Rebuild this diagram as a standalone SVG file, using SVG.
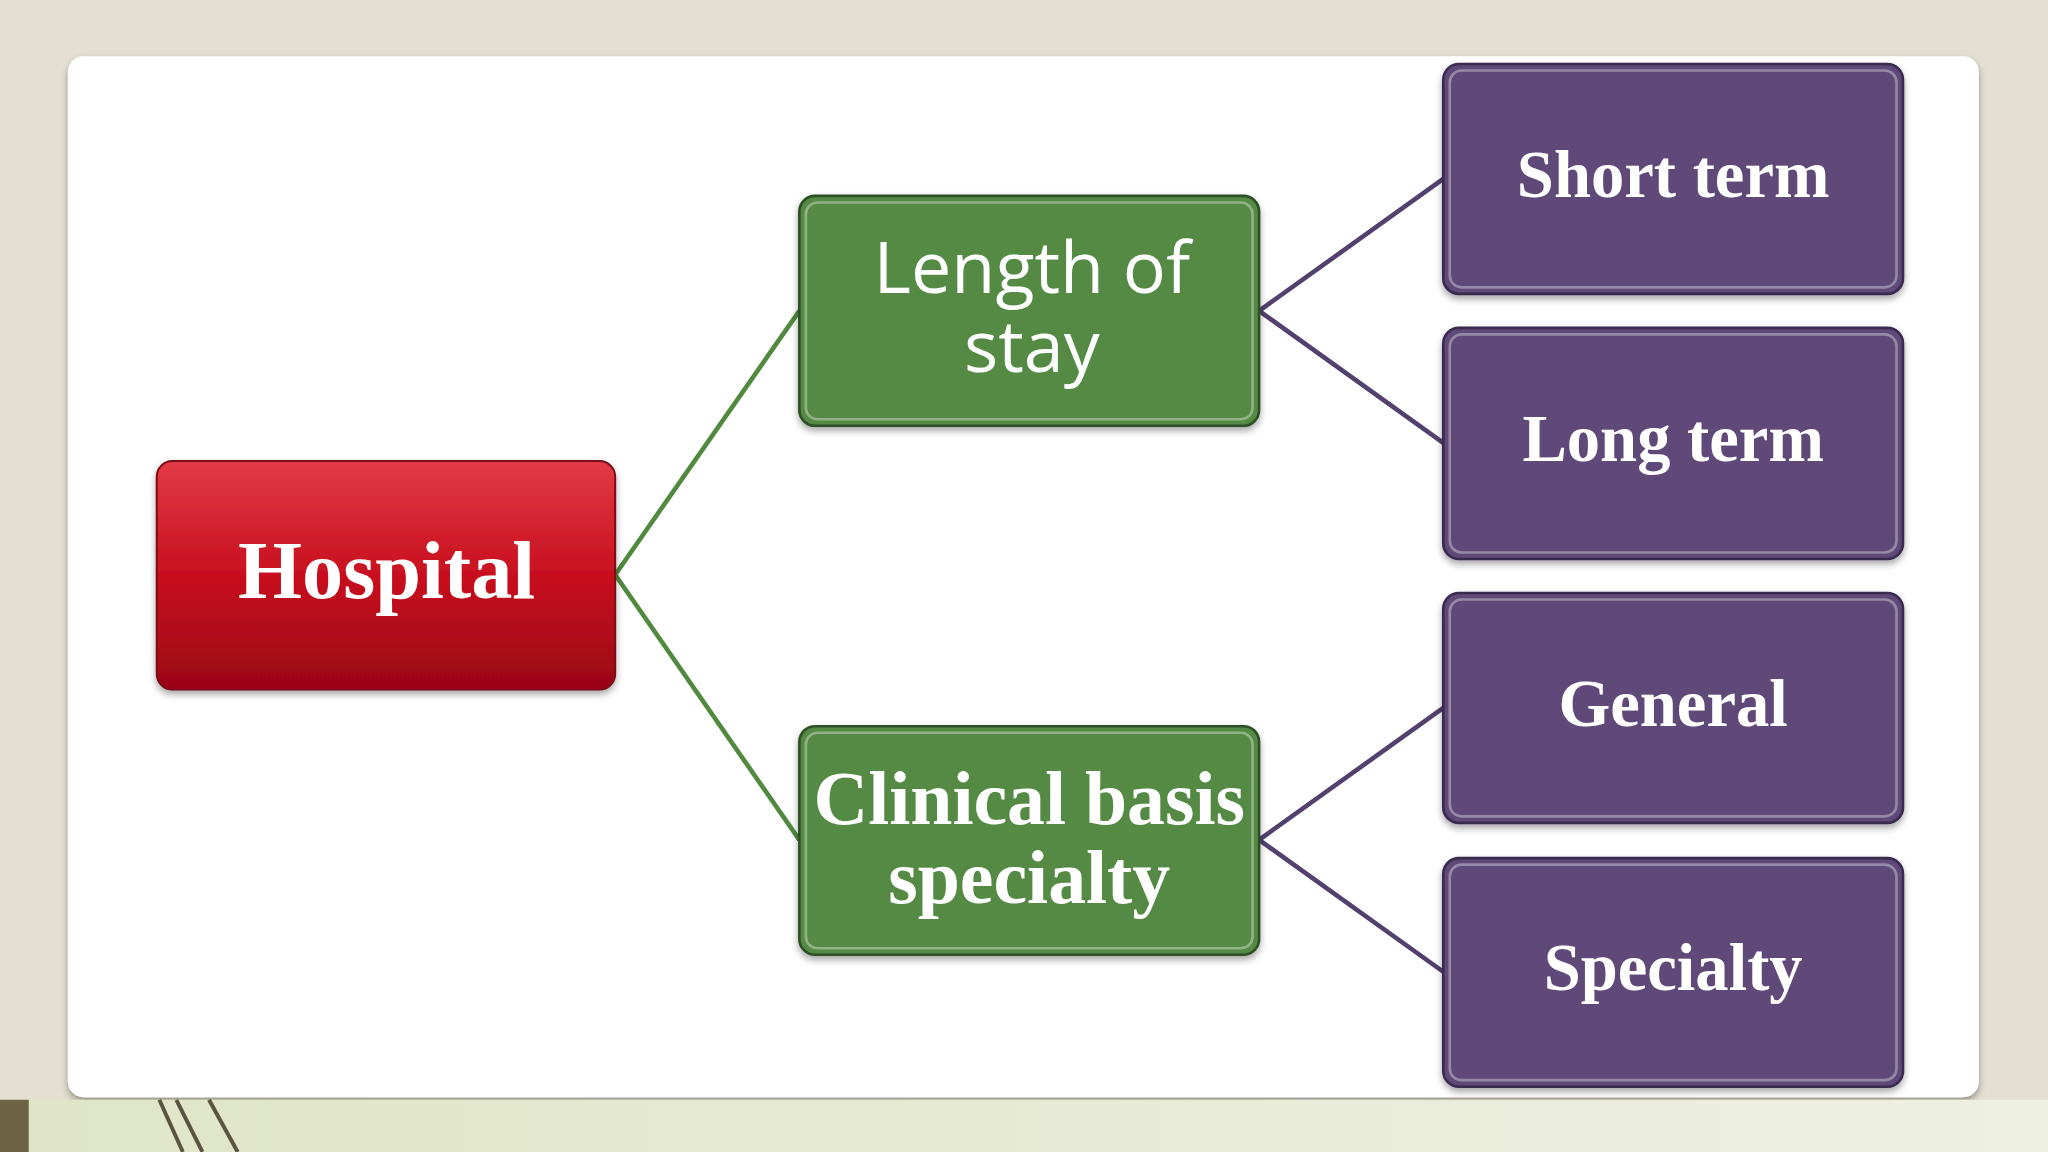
<svg xmlns="http://www.w3.org/2000/svg" width="2048" height="1152" viewBox="0 0 2048 1152">
<defs>
<linearGradient id="red" x1="0" y1="0" x2="0" y2="1"><stop offset="0" stop-color="#e23a45"/><stop offset="0.5" stop-color="#c8101f"/><stop offset="1" stop-color="#990515"/></linearGradient>
<linearGradient id="strip" x1="0" y1="0" x2="1" y2="0"><stop offset="0" stop-color="#dfe5c6"/><stop offset="1" stop-color="#eef0e2"/></linearGradient>
<filter id="sh" x="-10%" y="-10%" width="120%" height="130%"><feDropShadow dx="0" dy="3" stdDeviation="3" flood-color="#000" flood-opacity="0.35"/></filter>
<style>
.g{fill:#548a45;stroke:#2f4f28;stroke-width:2}
.p{fill:#5f4878;stroke:#3a2a50;stroke-width:2}
.inner{fill:none;stroke:#ffffff;stroke-opacity:0.35;stroke-width:2}
.ser{font-family:"Liberation Serif",serif;font-weight:bold;fill:#fff;text-anchor:middle}
.san{font-family:"Open Sans","Noto Sans",sans-serif;fill:#fff;text-anchor:middle}
.lg{stroke:#4f8a3e;stroke-width:3.5;fill:none}
.lp{stroke:#52406e;stroke-width:3.5;fill:none}
</style>
</defs>
<g transform="scale(1.306122)">
<rect x="0" y="0" width="1568" height="882" fill="#e3e0d2"/>
<rect x="52" y="43" width="1463" height="797" rx="12" fill="#fff" filter="url(#sh)"/>
<rect x="0" y="842" width="1568" height="40" fill="url(#strip)"/>
<rect x="0" y="842" width="22" height="40" fill="#6e6245"/>
<path d="M122 842 L140 882 M135 842 L155 882 M160 842 L182 882" stroke="#5a5540" stroke-width="3"/>
<g id="connectors">
<path class="lg" d="M471 440 L612 238 M471 440 L612 643"/>
<path class="lp" d="M964 238 L1105 137 M964 238 L1105 339 M964 643 L1105 542 M964 643 L1105 744"/>
</g>
<g id="hospital"><rect x="120" y="353" width="351" height="175" rx="12" fill="url(#red)" stroke="#7a0a12" stroke-width="1.5" filter="url(#sh)"/><text class="ser" x="296" y="458" font-size="63">Hospital</text></g>
<g id="length"><rect class="g" x="612" y="150" width="352" height="176" rx="12" filter="url(#sh)"/><rect class="inner" x="617" y="155" width="342" height="166" rx="9"/><text class="san" x="790" y="224" font-size="55">Length of</text><text class="san" x="790" y="285" font-size="55">stay</text></g>
<g id="clinical"><rect class="g" x="612" y="556" width="352" height="175" rx="12" filter="url(#sh)"/><rect class="inner" x="617" y="561" width="342" height="165" rx="9"/><text class="ser" x="788" y="631" font-size="58">Clinical basis</text><text class="ser" x="788" y="691" font-size="58">specialty</text></g>
<g id="short"><rect class="p" x="1105" y="49" width="352" height="176" rx="12" filter="url(#sh)"/><rect class="inner" x="1110" y="54" width="342" height="166" rx="9"/><text class="ser" x="1281" y="151" font-size="51">Short term</text></g>
<g id="long"><rect class="p" x="1105" y="251" width="352" height="177" rx="12" filter="url(#sh)"/><rect class="inner" x="1110" y="256" width="342" height="167" rx="9"/><text class="ser" x="1281" y="353" font-size="51">Long term</text></g>
<g id="general"><rect class="p" x="1105" y="454" width="352" height="176" rx="12" filter="url(#sh)"/><rect class="inner" x="1110" y="459" width="342" height="166" rx="9"/><text class="ser" x="1281" y="556" font-size="51">General</text></g>
<g id="specialty"><rect class="p" x="1105" y="657" width="352" height="175" rx="12" filter="url(#sh)"/><rect class="inner" x="1110" y="662" width="342" height="165" rx="9"/><text class="ser" x="1281" y="758" font-size="51">Specialty</text></g>
</g>
</svg>
